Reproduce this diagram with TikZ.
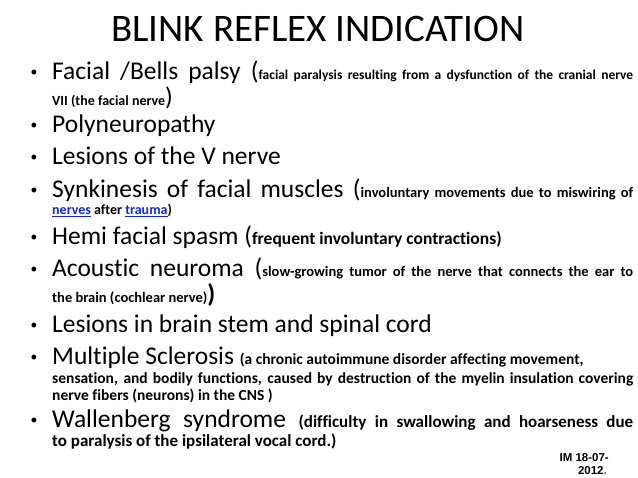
\documentclass[tikz,border=0pt]{standalone}
\usepackage{fontspec}
\setmainfont[Ligatures=CommonOff]{Carlito}
\newfontfamily\arialf{Liberation Sans}
\definecolor{linkblue}{RGB}{20,40,220}
\definecolor{dotred}{RGB}{200,30,30}
\newcommand{\bigtxt}{\fontsize{25.5}{28}\selectfont\mdseries}
\newcommand{\smtxt}[1][14.5]{\fontsize{#1}{14}\selectfont\bfseries\ignorespaces}
\newcommand{\lnk}[1]{\textcolor{linkblue}{\underline{#1}}}
\begin{document}
\begin{tikzpicture}[x=1pt,y=-1pt,
  ln/.style={anchor=base west,inner sep=0pt},
  bul/.style={anchor=base,inner sep=0pt,font=\arialf\fontsize{18}{20}\selectfont}]
\useasboundingbox[fill=white] (0,0) rectangle (638,478);
\node[anchor=base,inner sep=0pt,font=\fontsize{39}{42}\selectfont] (title) at (318,42) {BLINK REFLEX INDICATION};
\foreach \y/\n in {80/b1,133/b2,165/b3,198/b4,245/b5,277/b6,333/b7,365/b8,428/b9}
  \node[bul] (\n) at (34,\y-1) {•};
\node[ln] (l1) at (52,80) {\makebox[581pt][s]{\bigtxt Facial /Bells palsy (\smtxt[13.5]facial paralysis resulting from a dysfunction of the cranial nerve}};
\node[ln] (l2) at (52,106) {\smtxt[14]VII (the facial nerve\bigtxt)};
\node[ln] (l3) at (52,133) {\bigtxt Polyneuropathy};
\node[ln] (l4) at (52,165) {\bigtxt Lesions of the V nerve};
\node[ln] (l5) at (52,198) {\makebox[581pt][s]{\bigtxt Synkinesis of facial muscles (\smtxt involuntary movements due to miswiring of}};
\node[ln] (l6) at (52,215) {\smtxt[14]\lnk{nerves} after \lnk{trauma})};
\node[ln] (l7) at (52,245) {\bigtxt Hemi facial spasm (\smtxt[17.5]frequent involuntary contractions)};
\node[ln] (l8) at (52,277) {\makebox[581pt][s]{\bigtxt Acoustic neuroma (\smtxt slow-growing tumor of the nerve that connects the ear to}};
\node[ln] (l9) at (52,303) {\smtxt the brain (cochlear nerve)\bigtxt\bfseries)};
\node[ln] (l10) at (52,333) {\bigtxt Lesions in brain stem and spinal cord};
\node[ln] (l11) at (52,365) {\bigtxt Multiple Sclerosis {\smtxt[15.5](a chronic autoimmune disorder affecting movement,}};
\node[ln] (l12) at (52,384) {\makebox[581pt][s]{\smtxt[15.5]sensation, and bodily functions, caused by destruction of the myelin insulation covering}};
\node[ln] (l13) at (52,401) {\smtxt[15.5]nerve fibers (neurons) in the CNS )};
\node[ln] (l14) at (52,428) {\makebox[581pt][s]{\bigtxt Wallenberg syndrome {\smtxt[17](difficulty in swallowing and hoarseness due}}};
\node[ln] (l15) at (52,447) {\smtxt[17]to paralysis of the ipsilateral vocal cord.)};
\node[anchor=base east,inner sep=0pt,font=\arialf\bfseries\fontsize{11.5}{13}\selectfont] (d1) at (609,462) {IM 18-07-};
\node[anchor=base east,inner sep=0pt,font=\arialf\bfseries\fontsize{11.5}{13}\selectfont] (d2) at (607,475) {2012\textcolor{dotred}{.}};
\end{tikzpicture}
\end{document}
